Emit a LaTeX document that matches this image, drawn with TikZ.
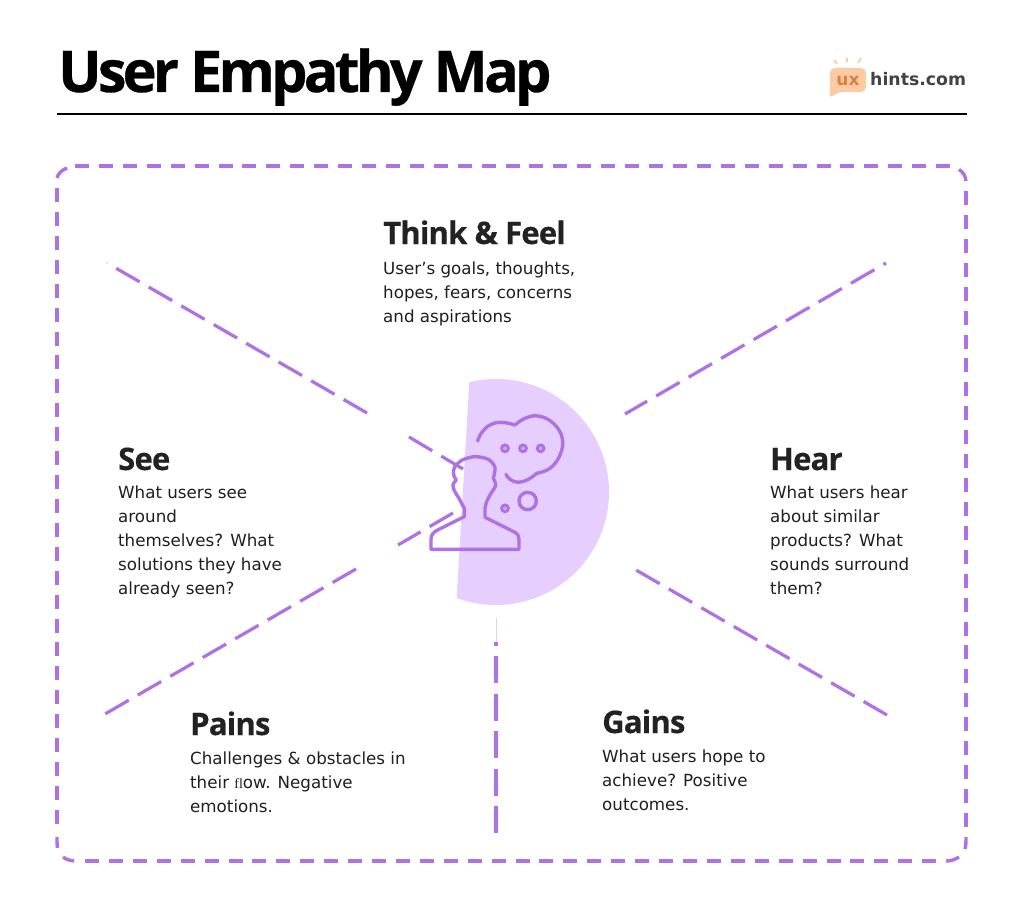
\documentclass[tikz,border=0pt]{standalone}
\usepackage{fontspec}
\setmainfont{DejaVu Sans}
\newfontfamily\titlefont[BoldFeatures={FakeBold=0.6,LetterSpace=-6.6}]{Open Sans}
\newfontfamily\headfont[BoldFeatures={FakeBold=0.4,LetterSpace=-2.6}]{Open Sans}
\newfontfamily\bodyfont{DejaVu Sans}
\newfontfamily\logofont{DejaVu Sans}
\definecolor{vio}{HTML}{AE72E4}
\definecolor{disc}{HTML}{E6CFFF}
\definecolor{logobg}{HTML}{FCCBA6}
\definecolor{logotx}{HTML}{DF7F3C}
\definecolor{ink}{HTML}{222222}
\tikzset{
 frameline/.style={draw=vio,line width=3.4pt,dash pattern=on 14pt off 9.92pt},
 framebit/.style={draw=vio,line width=3.4pt},
 spoke/.style={draw=vio,line width=3.2pt,dash pattern=on 27pt off 10.5pt},
 iconline/.style={draw=vio,line width=3.4pt,line join=round,line cap=round},
 headtxt/.style={inner sep=0pt,anchor=base west,text=ink,font=\headfont\bfseries\fontsize{31}{31}\selectfont},
 bodytxt/.style={inner sep=0pt,anchor=north west,align=left,text=black!88,font=\bodyfont\fontsize{16.7}{24}\selectfont},
}
\begin{document}
\begin{tikzpicture}[x=1pt,y=-1pt]
\useasboundingbox (0,0) rectangle (1024,901);
\fill[white] (0,0) rectangle (1024,901);
% title
\node[inner sep=0pt,anchor=base west,font=\titlefont\bfseries\fontsize{57.5}{58}\selectfont,text=black] (title) at (58,92) {User Empathy Map};
\coordinate (ruleL) at (57,114); \coordinate (ruleR) at (967,114);
\draw[black,line width=2pt] (ruleL) -- (ruleR);
% logo
\fill[logobg,rounded corners=5pt] (830,68) -- (866,68) -- (866,92) -- (838,92) -- (829,99) -- (830,92) -- cycle;
\node[inner sep=0pt,anchor=base,text=logotx,font=\logofont\bfseries\fontsize{17}{17}\selectfont] (ux) at (848,86) {ux};
\node[inner sep=0pt,anchor=base west,text=ink!85,font=\logofont\bfseries\fontsize{17.3}{18}\selectfont] (hints) at (870,86) {hints.com};
\draw[logobg,line width=1.8pt] (834,60) -- (837,64) (847,58) -- (847,62) (861,58) -- (858,63);
% frame: straight runs and the corner pieces
\draw[frameline] (75,166) -- (950,166);
\draw[frameline] (966,191) -- (966,827);
\draw[frameline] (85,861) -- (937,861);
\draw[frameline] (57,188) -- (57,824);
\draw[framebit] (959,169.5) .. controls (963,172) and (965.5,176) .. (966,181);
\draw[framebit] (966,837) .. controls (966,841) and (966,845) .. (965,849);
\draw[framebit] (959,857) .. controls (955,859.5) and (951,861) .. (946,861);
\draw[framebit] (74,861) .. controls (70,860.5) and (66,859.5) .. (63,857);
\draw[framebit] (57,837) .. controls (57,841) and (57,845) .. (57.5,848);
\draw[framebit] (57,178) .. controls (58,173.5) and (62,170) .. (67,168);
% disc
\begin{scope}
\clip (470,370) -- (456,610) -- (700,610) -- (700,370) -- cycle;
\fill[disc] (496,492) circle[radius=113];
\end{scope}
% spokes
\coordinate (nwA) at (367,413); \coordinate (nwB) at (107,263);
\coordinate (nwC) at (409,437); \coordinate (nwD) at (463,469);
\coordinate (neA) at (886,263); \coordinate (neB) at (625,414);
\coordinate (seA) at (887,715); \coordinate (seB) at (636,570);
\coordinate (swA) at (356,569); \coordinate (swB) at (105,714);
\coordinate (swC) at (453,513); \coordinate (swD) at (398,545);
\coordinate (vA) at (496,833); \coordinate (vB) at (496,642);
\coordinate (vC) at (496,618);
\draw[spoke] (nwA) -- (nwB);
\draw[spoke] (nwC) -- (nwD);
\draw[spoke,dash phase=24pt] (neA) -- (neB);
\draw[spoke] (seA) -- (seB);
\draw[spoke] (swA) -- (swB);
\draw[spoke] (swC) -- (swD);
\draw[spoke] (vA) -- (vB);
\draw[vio!35,line width=1pt] (vB) -- (vC);
% icon
\begin{scope}[shift={(425,410)},x=0.3333pt,y=-0.3333pt]
\draw[iconline] (118,320) -- (118,296)
 -- plot[smooth,tension=0.5] coordinates {(118,296) (102,265) (88,242) (84,224) (94,210)}
 -- plot[smooth,tension=0.5] coordinates {(94,210) (86,195) (88,172) (112,150) (150,140) (190,148) (210,172) (205,205)}
 -- plot[smooth,tension=0.5] coordinates {(205,205) (212,226) (198,250) (185,275) (180,296)}
 -- (180,322) -- (268,366) .. controls (278,372) and (282,378) .. (282,388) -- (282,418) -- (18,418) -- (18,388) .. controls (18,374) and (26,366) .. (38,360) -- cycle;
\draw[iconline] plot[smooth,tension=0.7] coordinates {(158,93) (170,68) (195,45) (230,37) (270,45)};
\draw[iconline] plot[smooth,tension=0.7] coordinates {(270,45) (300,25) (340,18) (385,40) (412,85) (405,135) (375,175) (335,190)};
\draw[iconline] plot[smooth,tension=0.7] coordinates {(335,190) (310,208) (280,217) (255,208) (243,193)};
\foreach \nm/\px/\py in {da/240/115,db/294/115,dc/347/115,dd/240/295}{
  \draw[vio,line width=3pt] (\px,\py) circle[radius=10];
  \fill[vio!45!disc] (\px,\py) circle[radius=5];
}
\draw[vio,line width=3.4pt] (308,273) circle[radius=26];
\end{scope}
% texts
\node[headtxt] (tfH) at (383,244) {Think \& Feel};
\node[bodytxt] (tfB) at (383,262) {User’s goals, thoughts,\\hopes, fears, concerns\\and aspirations};
\node[headtxt] (seeH) at (118,470) {See};
\node[bodytxt] (seeB) at (118,486) {What users see\\around\\themselves? What\\solutions they have\\already seen?};
\node[headtxt] (hearH) at (770,470) {Hear};
\node[bodytxt] (hearB) at (770,486) {What users hear\\about similar\\products? What\\sounds surround\\them?};
\node[headtxt] (painsH) at (190,735) {Pains};
\node[bodytxt] (painsB) at (190,752) {Challenges \& obstacles in\\their {\fontspec{Liberation Serif}\fontsize{14}{14}\selectfont fl}ow. Negative\\emotions.};
\node[headtxt] (gainsH) at (602,733) {Gains};
\node[bodytxt] (gainsB) at (602,750) {What users hope to\\achieve? Positive\\outcomes.};
\end{tikzpicture}
\end{document}
